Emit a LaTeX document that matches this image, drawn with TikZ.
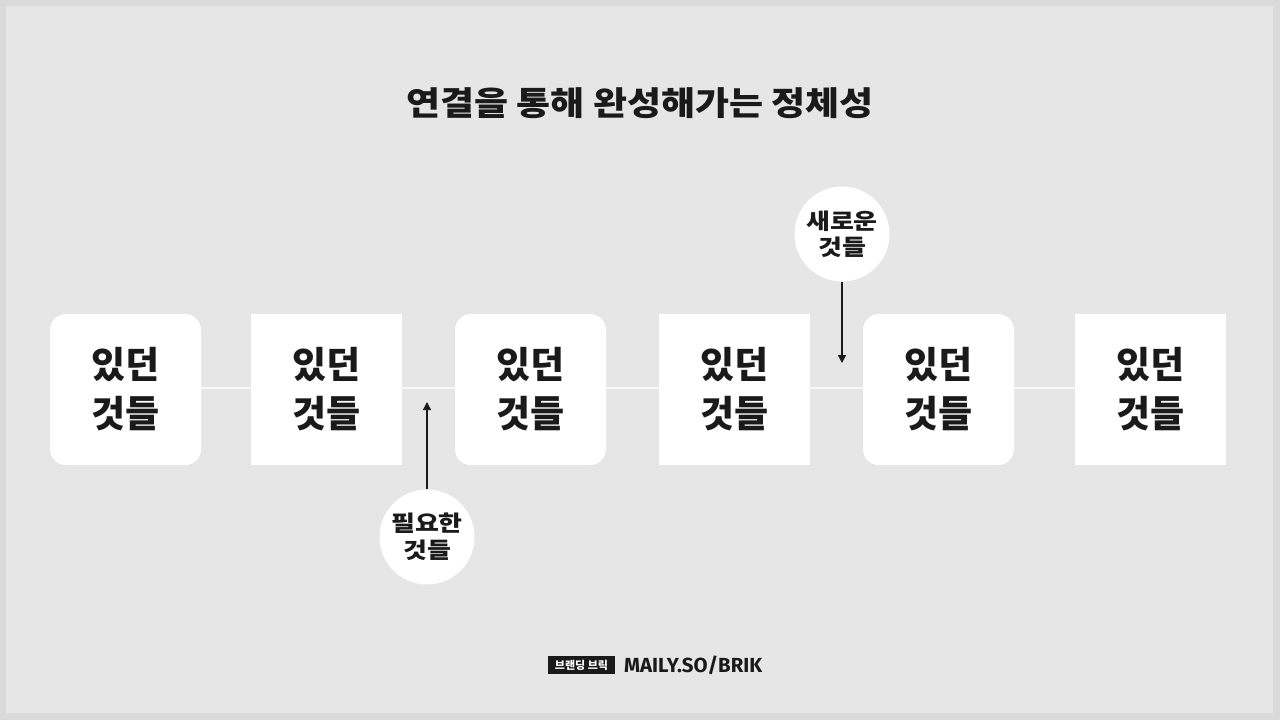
\documentclass[tikz,border=0pt]{standalone}
\usepackage{fontspec}
\usetikzlibrary{arrows.meta}
\newfontfamily\kr{Noto Sans CJK KR}
\newfontfamily\latinbold{Fira Sans}
\definecolor{bgout}{HTML}{DADADA}
\definecolor{bgin}{HTML}{E6E6E6}
\definecolor{ink}{HTML}{1A1A1A}
\tikzset{
  boxsq/.style={fill=white, minimum width=151pt, minimum height=151pt, inner sep=0pt, align=center,
    font=\kr\bfseries\fontsize{37}{49}\selectfont, text=ink},
  boxrd/.style={boxsq, rounded corners=16pt},
  bubble/.style={circle, fill=white, minimum size=95pt, inner sep=0pt, align=center,
    font=\kr\bfseries\fontsize{22}{26}\selectfont, text=ink},
  link/.style={draw=white!97!black, line width=2.5pt},
  pointer/.style={draw=ink, line width=1.3pt, -{Triangle[width=8pt,length=8pt]}}
}
\newcommand{\wide}[1]{\scalebox{1.18}[1]{#1}}
\begin{document}
\begin{tikzpicture}[x=1pt,y=-1pt]
\fill[bgout] (0,0) rectangle (1280,720);
\fill[bgin] (6,6) rectangle (1273,713);
\useasboundingbox (0,0) rectangle (1280,720);

\node[font=\kr\bfseries\fontsize{33}{36}\selectfont, text=ink] (title) at (640,103) {\scalebox{1.12}[1]{연결을 통해 완성해가는 정체성}};

\node[boxrd] (b1) at (125.5,389.5) {있던\\것들};
\node[boxsq] (b2) at (326.5,389.5) {있던\\것들};
\node[boxrd] (b3) at (530.5,389.5) {있던\\것들};
\node[boxsq] (b4) at (734.5,389.5) {있던\\것들};
\node[boxrd] (b5) at (938.5,389.5) {있던\\것들};
\node[boxsq] (b6) at (1150.5,389.5) {있던\\것들};

\draw[link] (b1.east |- 0,388) -- (b2.west |- 0,388);
\draw[link] (b2.east |- 0,388) -- (b3.west |- 0,388);
\draw[link] (b3.east |- 0,388) -- (b4.west |- 0,388);
\draw[link] (b4.east |- 0,388) -- (b5.west |- 0,388);
\draw[link] (b5.east |- 0,388) -- (b6.west |- 0,388);

\node[bubble] (need) at (427,537) {\wide{필요한}\\[1pt]\wide{것들}};
\node[bubble] (new) at (842,234) {\wide{새로운}\\\wide{것들}};
\coordinate (needtip) at (427,402);
\coordinate (newtip) at (842,363);
\draw[pointer] (need.north) -- (needtip);
\draw[pointer] (new.south) -- (newtip);

\node[fill=ink, text=white, minimum width=67pt, minimum height=18pt, inner sep=0pt,
  font=\kr\bfseries\fontsize{11}{12}\selectfont] (brand) at (581.5,665) {브랜딩 브릭};
\node[anchor=west, inner sep=0pt, text=ink, font=\latinbold\bfseries\fontsize{19}{20}\selectfont] (site) at (624,665)
  {\resizebox{138pt}{!}{MAILY.SO/BRIK}};
\end{tikzpicture}
\end{document}
